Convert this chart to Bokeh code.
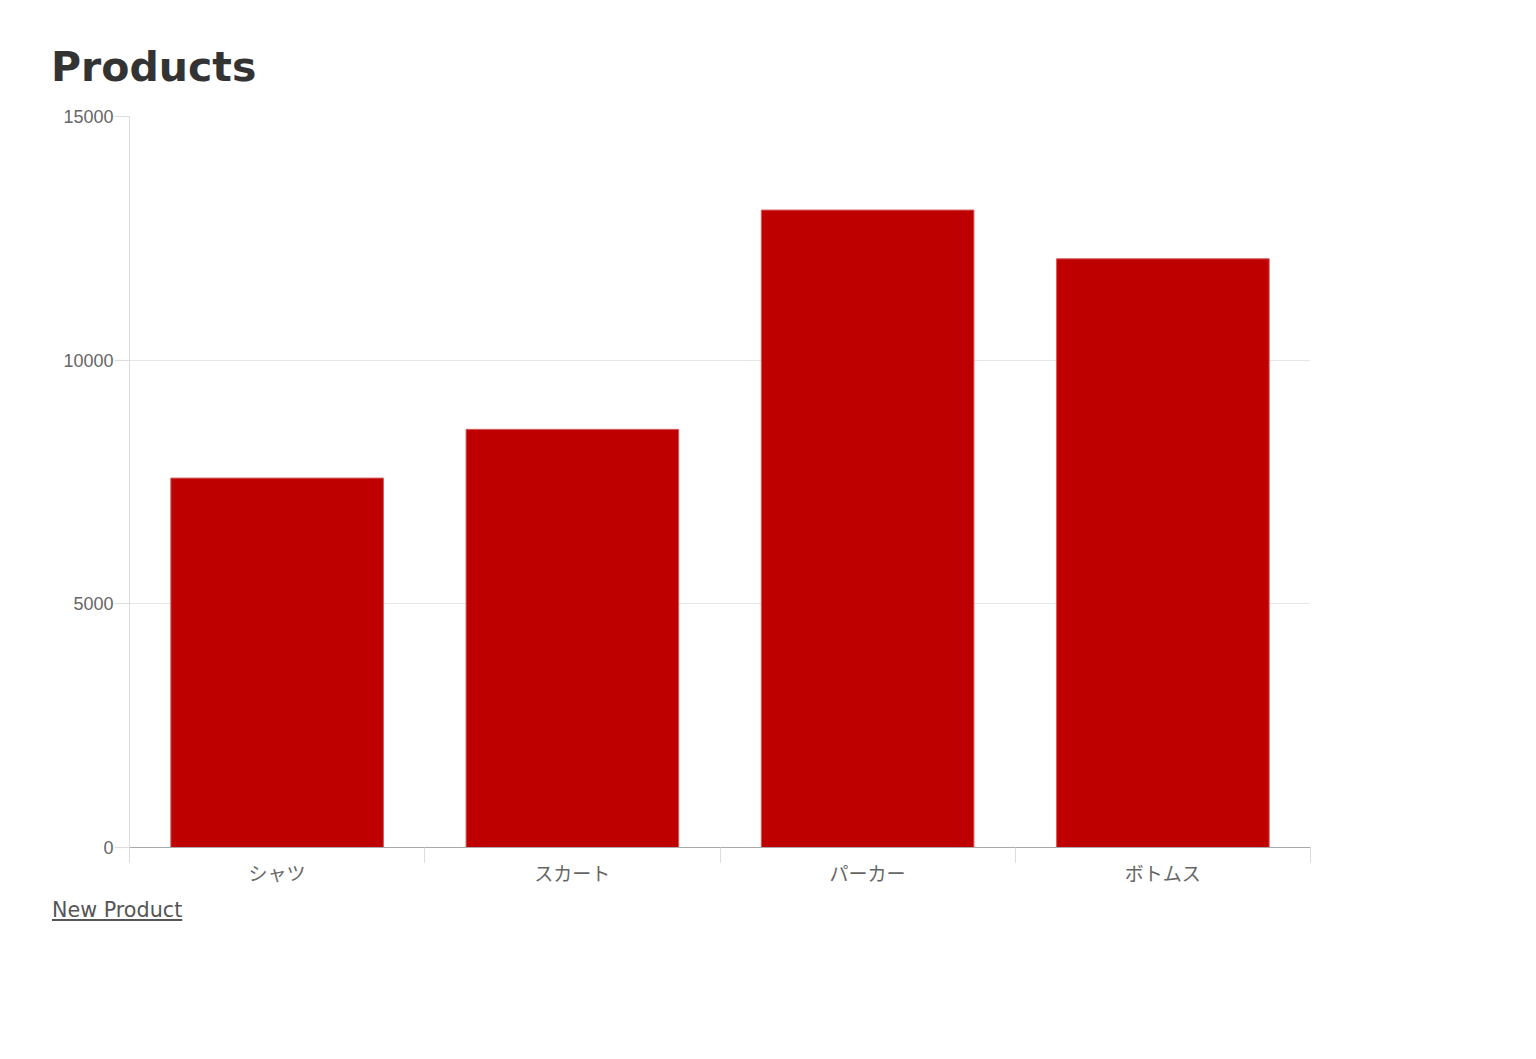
import numpy as np
from bokeh.plotting import figure
from bokeh.models import ColumnDataSource, Range1d, FixedTicker, Div
from bokeh.layouts import column
from bokeh.embed import file_html
from bokeh.resources import INLINE

categories = ["シャツ", "スカート", "パーカー", "ボトムス"]
sales = [7580, 8580, 13080, 12080]
y_ticks = [0, 5000, 10000, 15000]
title_text = "Products"
link_text = "New Product"

xpos = np.arange(len(categories)) + 0.5
src = ColumnDataSource(dict(x=xpos, top=sales, cat=categories))

title = Div(
    text=f'<div style="font-family:\'DejaVu Sans\';font-weight:bold;font-size:41px;color:#333;'
         f'padding-top:43px;padding-left:51px;line-height:normal;white-space:nowrap">{title_text}</div>',
    width=1400, height=100, margin=(0, 0, 0, 0))

p = figure(width=1320, height=797, output_backend="svg", toolbar_location=None,
           x_range=Range1d(0, len(categories)), y_range=Range1d(0, 15000),
           min_border_left=129, min_border_right=10, min_border_top=16, min_border_bottom=50,
           margin=(0, 0, 0, 0))
p.outline_line_color = None
p.background_fill_color = "white"
p.border_fill_color = "white"

p.vbar(x="x", top="top", width=0.72, source=src, fill_color="#bf0000",
       line_color="#d45a5a", line_width=1)

# y axis
p.yaxis.ticker = FixedTicker(ticks=y_ticks)
p.yaxis.axis_line_color = "#dddddd"
p.yaxis.major_tick_line_color = "#dddddd"
p.yaxis.major_tick_out = 15
p.yaxis.major_tick_in = 0
p.yaxis.minor_tick_line_color = None
p.yaxis.major_label_standoff = 1
p.yaxis.major_label_text_font = "Liberation Sans"
p.yaxis.major_label_text_font_size = "18px"
p.yaxis.major_label_text_color = "#666666"

# x axis
p.xaxis.ticker = FixedTicker(ticks=list(xpos), minor_ticks=list(range(len(categories) + 1)))
p.xaxis.major_label_overrides = {float(x): c for x, c in zip(xpos, categories)}
p.xaxis.major_tick_line_color = None
p.xaxis.major_tick_out = 0
p.xaxis.major_tick_in = 0
p.xaxis.minor_tick_line_color = "#dddddd"
p.xaxis.minor_tick_out = 15
p.xaxis.minor_tick_in = 0
p.xaxis.axis_line_color = "#aaaaaa"
p.xaxis.major_label_standoff = -4
p.xaxis.major_label_text_font = "Noto Sans CJK JP"
p.xaxis.major_label_text_font_size = "19px"
p.xaxis.major_label_text_color = "#666666"

p.xgrid.grid_line_color = None
p.ygrid.ticker = FixedTicker(ticks=y_ticks)
p.ygrid.grid_line_color = "#e6e6e6"

link = Div(
    text=f'<a href="#" style="font-family:\'DejaVu Sans\';font-size:20.7px;color:#555;'
         f'text-decoration:underline;line-height:normal;padding-left:52px;padding-top:1px;display:inline-block">{link_text}</a>',
    width=400, height=40, margin=(0, 0, 0, 0))

layout = column(title, p, link)
open("out.html", "w").write(file_html(layout, INLINE))
